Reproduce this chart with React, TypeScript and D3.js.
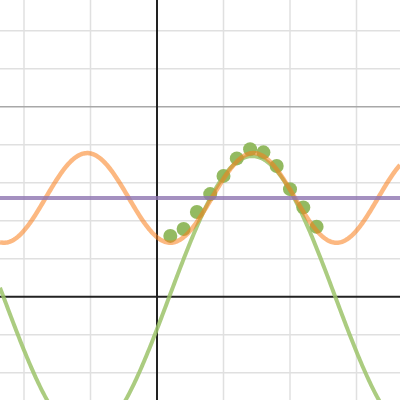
import React from "react";
import * as d3 from "d3";

// grid ticks (minor every 1, major at y = 5)
const xTicks = [-2, -1, 1, 2, 3];
const yTicks = [-2, -1, 1, 2, 3, 4, 6, 7];
const yMajor = [5];

// measured points
const pointX = [0.2, 0.4, 0.6, 0.8, 1.0, 1.2, 1.4, 1.6, 1.8, 2.0, 2.2, 2.4];
const pointY = [1.6, 1.78, 2.23, 2.7, 3.18, 3.64, 3.88, 3.8, 3.44, 2.83, 2.35, 1.84];

// fitted curves: [amplitude, period, shift, midline]
const greenFit = [3.7, 4.99, 0.185, 0];
const orangeFit = [1.18, 2.5, 1.45, 2.6];
const purpleLevel = 2.6;

const width = 400;
const height = 400;

export default function App() {
    const x = d3.scaleLinear().domain([-157 / 66.5, 243 / 66.5]).range([0, width]);
    const y = d3.scaleLinear().domain([-2.72, 7.81]).range([height, 0]);

    const samples = d3.range(0, width + 1, 1).map((px) => x.invert(px));

    const [ga, gp, gs, gm] = greenFit;
    const [oa, op, os, om] = orangeFit;
    const greenPts = samples.map((v) => [v, gm + ga * Math.sin((2 * Math.PI * (v - gs)) / gp)] as [number, number]);
    const orangePts = samples.map((v) => [v, om + oa * Math.cos((2 * Math.PI * (v - os)) / op)] as [number, number]);

    const line = d3
        .line<[number, number]>()
        .x((d) => x(d[0]))
        .y((d) => y(d[1]));

    return (
        <svg
            width={width}
            height={height}
            style={{ position: "fixed", top: 0, left: 0, background: "#fff" }}
        >
            <g>
                {xTicks.map((t) => (
                    <line key={"vx" + t} x1={x(t)} x2={x(t)} y1={0} y2={height} stroke="#e0e0e0" strokeWidth={1.5} />
                ))}
                {yTicks.map((t) => (
                    <line key={"hy" + t} x1={0} x2={width} y1={y(t)} y2={y(t)} stroke="#e0e0e0" strokeWidth={1.5} />
                ))}
                {yMajor.map((t) => (
                    <line key={"my" + t} x1={0} x2={width} y1={y(t)} y2={y(t)} stroke="#a8a8a8" strokeWidth={1.5} />
                ))}
            </g>
            <line x1={x(0)} x2={x(0)} y1={0} y2={height} stroke="#222" strokeWidth={2} />
            <line x1={0} x2={width} y1={y(0)} y2={y(0)} stroke="#222" strokeWidth={2} />

            <path d={line(greenPts) ?? ""} fill="none" stroke="#9cc36a" strokeOpacity={0.85} strokeWidth={4} />
            {pointX.map((px, i) => (
                <circle key={"p" + i} cx={x(px)} cy={y(pointY[i])} r={7} fill="#8db658" fillOpacity={0.95} />
            ))}
            <path d={line(orangePts) ?? ""} fill="none" stroke="#fa7e19" strokeOpacity={0.55} strokeWidth={4.5} />
            <line
                x1={0}
                x2={width}
                y1={y(purpleLevel)}
                y2={y(purpleLevel)}
                stroke="#8d74b0"
                strokeOpacity={0.8}
                strokeWidth={4}
            />
        </svg>
    );
}
